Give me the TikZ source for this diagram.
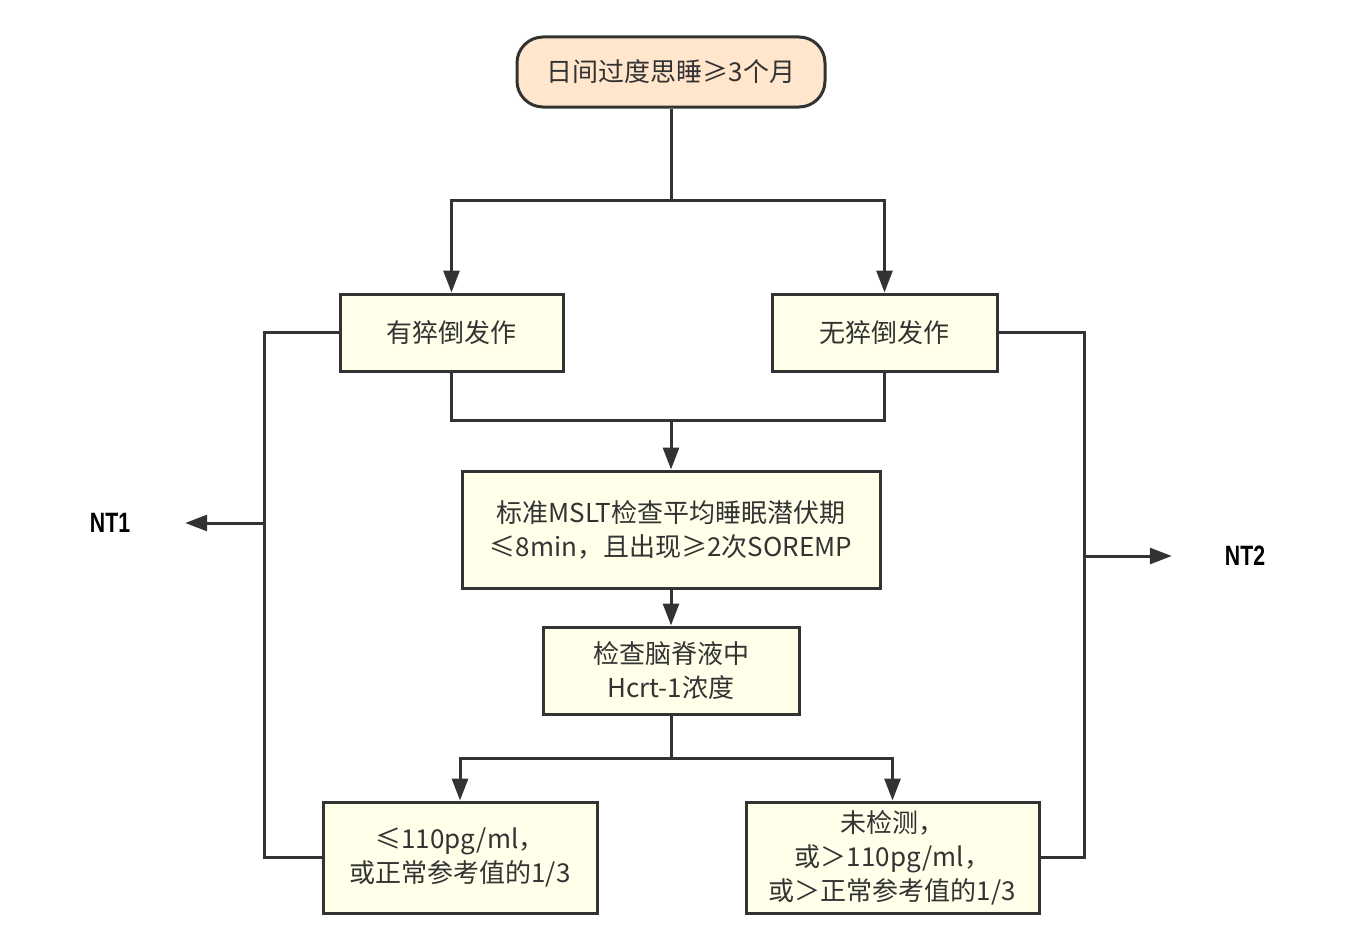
\documentclass[tikz,border=0pt]{standalone}
\usepackage{fontspec}
\setmainfont{Noto Sans CJK SC}
\newfontfamily\lblfont{Liberation Sans}
\usetikzlibrary{arrows.meta}
\definecolor{linec}{HTML}{333333}
\definecolor{peach}{HTML}{FFE6CC}
\definecolor{cream}{HTML}{FFFFEA}
\tikzset{
  box/.style={draw=linec, line width=3pt, fill=cream, text=linec, align=center,
    font=\fontsize{26}{34}\selectfont, inner sep=0pt},
  topbox/.style={box, fill=peach, rounded corners=26pt},
  conn/.style={draw=linec, line width=3pt},
  arr/.style={conn, -{Triangle[length=22pt,width=16pt]}},
  lbl/.style={text=black, font=\lblfont\bfseries\fontsize{28}{30}\selectfont, inner sep=0pt}
}
\begin{document}
\begin{tikzpicture}[x=1pt,y=-1pt]
\useasboundingbox (0,0) rectangle (1358,950);
\node[topbox, minimum width=308pt, minimum height=70pt] (top) at (671,72) {日间过度思睡≥3个月};
\node[box, minimum width=223pt, minimum height=77pt] (yes) at (451.5,332.5) {有猝倒发作};
\node[box, minimum width=225pt, minimum height=77pt] (no) at (884.5,332.5) {无猝倒发作};
\node[box, minimum width=418pt, minimum height=117pt] (mslt) at (671,529.5) {标准MSLT检查平均睡眠潜伏期\\≤8min，且出现≥2次SOREMP};
\node[box, minimum width=256pt, minimum height=87pt] (hcrt) at (671,670.5) {检查脑脊液中\\Hcrt-1浓度};
\node[box, minimum width=274pt, minimum height=111pt] (bl) at (460,857.5) {≤110pg/ml，\\或正常参考值的1/3};
\node[box, minimum width=293pt, minimum height=111pt] (br) at (892.5,857.5) {未检测，\\或＞110pg/ml，\\或＞正常参考值的1/3};
\node[lbl, minimum width=150pt, minimum height=20pt] (nt1) at (110,523) {\scalebox{0.76}[1]{NT1}};
\node[lbl, minimum width=146pt, minimum height=20pt] (nt2) at (1245,556) {\scalebox{0.76}[1]{NT2}};
\coordinate (b1) at (671,200);
\coordinate (j1) at (671,420);
\coordinate (s1) at (671,758);
\coordinate (L) at (264,523);
\coordinate (R) at (1084,556);
\draw[conn] (top.south) -- (b1);
\draw[arr] (b1) -| (yes.north);
\draw[arr] (b1) -| (no.north);
\draw[conn] (yes.south) |- (j1) -| (no.south);
\draw[arr] (j1) -- (mslt.north);
\draw[arr] (mslt.south) -- (hcrt.north);
\draw[conn] (hcrt.south) -- (s1);
\draw[arr] (s1) -| (bl.north);
\draw[arr] (s1) -| (br.north);
\draw[conn] (yes.west) -| (L) |- (bl.west);
\draw[arr] (L) -- (nt1.east);
\draw[conn] (no.east) -| (R) |- (br.east);
\draw[arr] (R) -- (nt2.west);
\end{tikzpicture}
\end{document}
